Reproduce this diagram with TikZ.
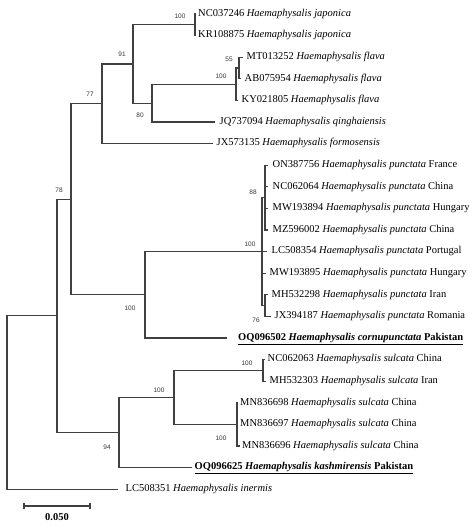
\documentclass[tikz,border=0pt]{standalone}
\usepackage{fontspec}
\setmainfont{Liberation Serif}
\newfontfamily\bsfont{Liberation Sans}
\begin{document}
\begin{tikzpicture}[x=1bp,y=-1bp,
  br/.style={line width=1.1bp, draw=black!75},
  leaf/.style={anchor=west, inner ysep=0pt, inner xsep=#1, font=\fontsize{10.5bp}{12bp}\selectfont, text height=7bp, text depth=2.3bp},
  leaf/.default=2bp,
  bs/.style={font=\bsfont\fontsize{6.5bp}{7bp}\selectfont, text=black!80, inner sep=0pt}]
\useasboundingbox (0,0) rectangle (474,527);
% internal nodes
\coordinate (root) at (7,402.5);
\coordinate (nA) at (57,315.9);
\coordinate (n78) at (71,199.3);
\coordinate (n77) at (102,103.8);
\coordinate (n91) at (133,64);
\coordinate (jap) at (195,24.8);
\coordinate (n80) at (152,103.1);
\coordinate (fl100) at (236,84.2);
\coordinate (n55) at (239,68);
\coordinate (n145) at (145,294.8);
\coordinate (pu100) at (262,251.6);
\coordinate (n88) at (265,197.6);
\coordinate (n76) at (265,305.6);
\coordinate (n94) at (119,432.5);
\coordinate (su100) at (174,397.4);
\coordinate (nc) at (263,370.4);
\coordinate (mn) at (237,424.4);
% leaves
\node[leaf] (l1) at (196,14.0) {NC037246 \textit{Haemaphysalis japonica}};
\node[leaf] (l2) at (196,35.6) {KR108875 \textit{Haemaphysalis japonica}};
\node[leaf=3.5bp] (l3) at (243,57.2) {MT013252 \textit{Haemaphysalis flava}};
\node[leaf=3.5bp] (l4) at (241,78.8) {AB075954 \textit{Haemaphysalis flava}};
\node[leaf=3.5bp] (l5) at (238,100.4) {KY021805 \textit{Haemaphysalis flava}};
\node[leaf=4.5bp] (l6) at (215,122.0) {JQ737094 \textit{Haemaphysalis qinghaiensis}};
\node[leaf=3.5bp] (l7) at (213,143.6) {JX573135 \textit{Haemaphysalis formosensis}};
\node[leaf=4.5bp] (l8) at (268,165.2) {ON387756 \textit{Haemaphysalis punctata} France};
\node[leaf=4.5bp] (l9) at (268,186.8) {NC062064 \textit{Haemaphysalis punctata} China};
\node[leaf=4.5bp] (l10) at (268,208.4) {MW193894 \textit{Haemaphysalis punctata} Hungary};
\node[leaf=4.5bp] (l11) at (268,230.0) {MZ596002 \textit{Haemaphysalis punctata} China};
\node[leaf=4.5bp] (l12) at (267,251.6) {LC508354 \textit{Haemaphysalis punctata} Portugal};
\node[leaf=3.5bp] (l13) at (266,273.2) {MW193895 \textit{Haemaphysalis punctata} Hungary};
\node[leaf=3.5bp] (l14) at (268,294.8) {MH532298 \textit{Haemaphysalis punctata} Iran};
\node[leaf=3.5bp] (l15) at (271,316.4) {JX394187 \textit{Haemaphysalis punctata} Romania};
\node[leaf=11bp] (l16) at (227,338.0) {\underline{\textbf{OQ096502 \textit{Haemaphysalis cornupunctata} Pakistan}}};
\node[leaf=2.5bp] (l17) at (265,359.6) {NC062063 \textit{Haemaphysalis sulcata} China};
\node[leaf=3.5bp] (l18) at (266,381.2) {MH532303 \textit{Haemaphysalis sulcata} Iran};
\node[leaf] (l19) at (238,402.8) {MN836698 \textit{Haemaphysalis sulcata} China};
\node[leaf] (l20) at (238,424.4) {MN836697 \textit{Haemaphysalis sulcata} China};
\node[leaf] (l21) at (240,446.0) {MN836696 \textit{Haemaphysalis sulcata} China};
\node[leaf=2.5bp] (l22) at (192,467.6) {\underline{\textbf{OQ096625 \textit{Haemaphysalis kashmirensis} Pakistan}}};
\node[leaf=7.5bp] (l23) at (118,489.2) {LC508351 \textit{Haemaphysalis inermis}};
% branches
\draw[br] (root) |- (nA);
\draw[br] (root) |- (l23.west);
\draw[br] (nA) |- (n78);
\draw[br] (nA) |- (n94);
\draw[br] (n78) |- (n77);
\draw[br] (n78) |- (n145);
\draw[br] (n77) |- (n91);
\draw[br] (n77) |- (l7.west);
\draw[br] (n91) |- (jap);
\draw[br] (n91) |- (n80);
\draw[br] (jap) |- (l1.west);
\draw[br] (jap) |- (l2.west);
\draw[br] (n80) |- (fl100);
\draw[br] (n80) |- (l6.west);
\draw[br] (fl100) |- (n55);
\draw[br] (fl100) |- (l5.west);
\draw[br] (n55) |- (l3.west);
\draw[br] (n55) |- (l4.west);
\draw[br] (n145) |- (pu100);
\draw[br] (n145) |- (l16.west);
\draw[br] (pu100) |- (n88);
\draw[br] (pu100) |- (l12.west);
\draw[br] (pu100) |- (l13.west);
\draw[br] (pu100) |- (n76);
\draw[br] (n88) |- (l8.west);
\draw[br] (n88) |- (l9.west);
\draw[br] (n88) |- (l10.west);
\draw[br] (n88) |- (l11.west);
\draw[br] (n76) |- (l14.west);
\draw[br] (n76) |- (l15.west);
\draw[br] (n94) |- (su100);
\draw[br] (n94) |- (l22.west);
\draw[br] (su100) |- (nc);
\draw[br] (su100) |- (mn);
\draw[br] (nc) |- (l17.west);
\draw[br] (nc) |- (l18.west);
\draw[br] (mn) |- (l19.west);
\draw[br] (mn) |- (l20.west);
\draw[br] (mn) |- (l21.west);
% bootstrap values
\node[bs] (b1) at (180,16) {100};
\node[bs] (b2) at (122,54) {91};
\node[bs] (b3) at (229,59) {55};
\node[bs] (b4) at (221,76) {100};
\node[bs] (b5) at (140,115) {80};
\node[bs] (b6) at (90,94) {77};
\node[bs] (b7) at (59,190) {78};
\node[bs] (b8) at (253,192) {88};
\node[bs] (b9) at (250,244) {100};
\node[bs] (b10) at (256,320) {76};
\node[bs] (b11) at (130,308) {100};
\node[bs] (b12) at (159,390) {100};
\node[bs] (b13) at (247,363) {100};
\node[bs] (b14) at (221,438) {100};
\node[bs] (b15) at (107,447) {94};
% scale bar
\coordinate (sbL) at (24,506);
\coordinate (sbR) at (90,506);
\draw[br] (sbL) -- (sbR);
\draw[br] ([yshift=-3bp]sbL) -- ([yshift=3bp]sbL);
\draw[br] ([yshift=-3bp]sbR) -- ([yshift=3bp]sbR);
\node[font=\fontsize{10.5bp}{12bp}\selectfont\bfseries, inner sep=0pt] (sblab) at (57,517.5) {0.050};
\end{tikzpicture}
\end{document}
